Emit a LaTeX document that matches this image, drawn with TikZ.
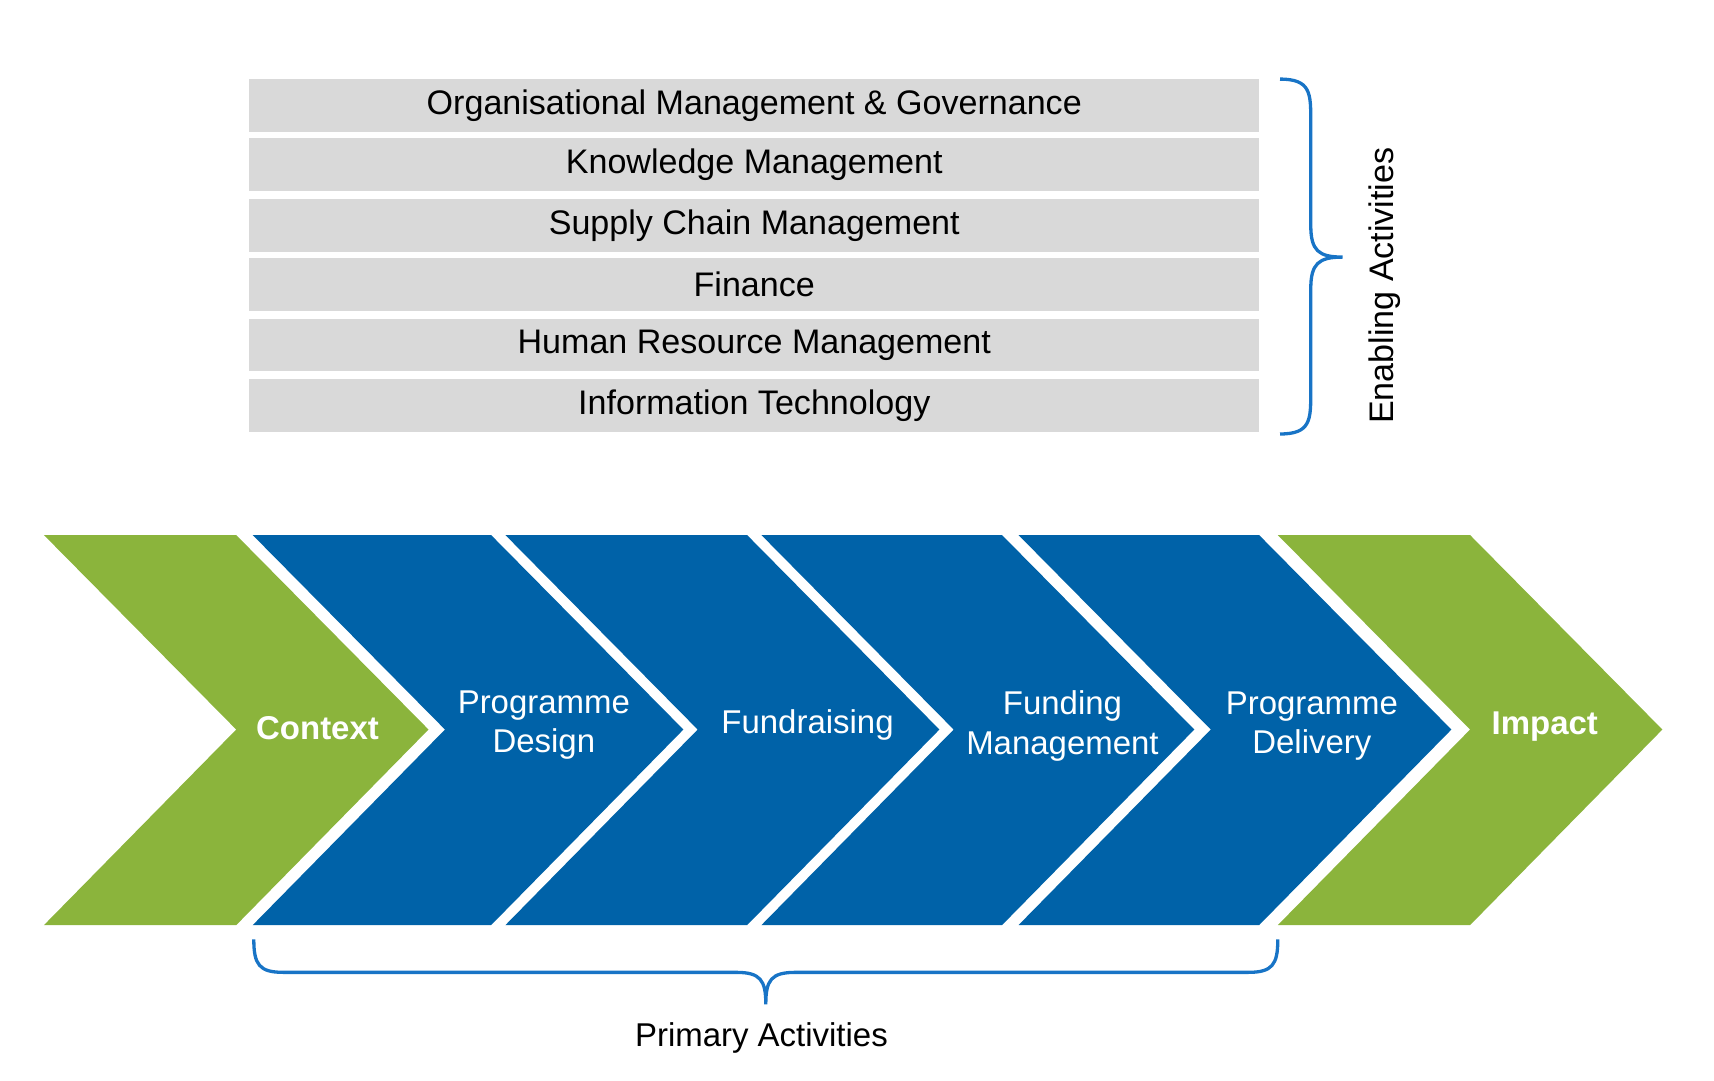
\documentclass[tikz,border=0pt]{standalone}
\usepackage{fontspec}
\setmainfont{Liberation Sans}
\definecolor{chgreen}{RGB}{139,180,60}
\definecolor{chblue}{RGB}{0,98,168}
\definecolor{brblue}{RGB}{24,116,198}
\definecolor{bargray}{RGB}{217,217,217}
\tikzset{every picture/.style={line width=0.75pt}}
\tikzset{
  bar/.style={fill=bargray,draw=none,minimum width=459.5pt,minimum height=24pt,inner sep=0pt,font=\fontsize{15.5}{18}\selectfont},
  chtext/.style={text=white,align=center,font=\fontsize{15}{18}\selectfont},
  brace/.style={draw=brblue,line width=1.5pt},
}
% chevron: left x, right x, colour
\newcommand{\chev}[3]{\fill[#3] (#1,487) -- (#2,487) -- (#2+175,664) -- (#2,842) -- (#1,842) -- (#1+175,664) -- cycle;}

\begin{document}
\begin{tikzpicture}[x=0.5pt,y=0.5pt,yscale=-1,xscale=1]
\useasboundingbox (0,0) rectangle (1560,983);

% Enabling activities
\node[bar] (org) at (686.5,96) {Organisational Management \& Governance};
\node[bar] (know) at (686.5,150) {Knowledge Management};
\node[bar] (supply) at (686.5,205) {Supply Chain Management};
\node[bar] (fin) at (686.5,259) {Finance};
\node[bar] (hr) at (686.5,314) {Human Resource Management};
\node[bar] (it) at (686.5,369) {Information Technology};

% right brace
\draw[brace] (1165,72) .. controls (1193,72) and (1193,85) .. (1193,110) -- (1193,205)
  .. controls (1193,228) and (1200,234) .. (1222,234)
  .. controls (1200,234) and (1193,240) .. (1193,263) -- (1193,357)
  .. controls (1193,382) and (1193,395) .. (1165,395);
\node[rotate=90,font=\fontsize{15.5}{18}\selectfont] (enab) at (1260,260) {Enabling Activities};

% Chevrons
\chev{40}{215}{chgreen}
\chev{230}{447}{chblue}
\chev{460}{680}{chblue}
\chev{693}{912}{chblue}
\chev{927}{1146}{chblue}
\chev{1163}{1338}{chgreen}

\node[chtext,font=\bfseries\fontsize{15}{18}\selectfont] (ctx) at (289,663) {Context};
\node[chtext] (design) at (495,660) {Programme\\Design};
\node[chtext] (fund) at (735,660) {Fundraising};
\node[chtext] (fmgmt) at (967,661) {Funding\\Management};
\node[chtext] (deliv) at (1194,661) {Programme\\Delivery};
\node[chtext,font=\bfseries\fontsize{15}{18}\selectfont] (imp) at (1406,661) {Impact};

% bottom brace
\draw[brace] (231,855) .. controls (231,878) and (236,885) .. (258,885) -- (670,885)
  .. controls (692,885) and (697,892) .. (697,914)
  .. controls (697,892) and (702,885) .. (724,885) -- (1136,885)
  .. controls (1158,885) and (1163,878) .. (1163,855);
\node[font=\fontsize{15}{18}\selectfont] (prim) at (693,945) {Primary Activities};

\end{tikzpicture}
\end{document}
